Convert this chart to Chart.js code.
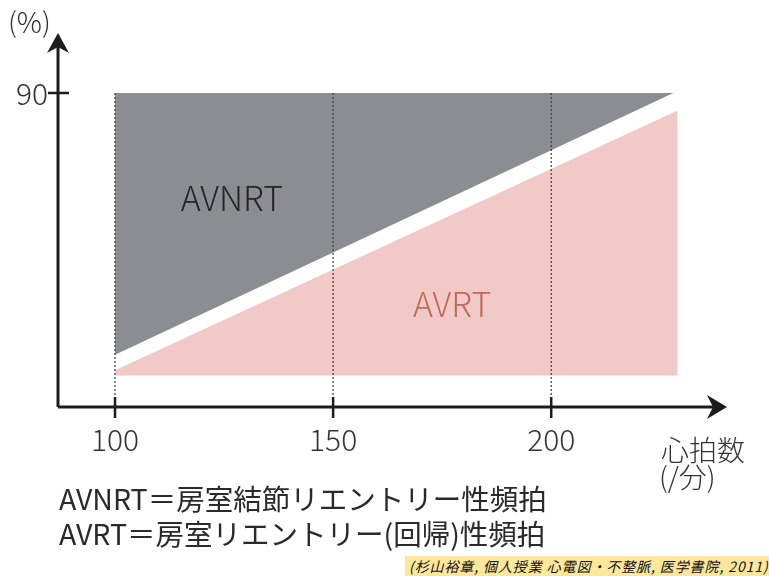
<!DOCTYPE html>
<html>
<head>
<meta charset="utf-8">
<script src="https://cdn.jsdelivr.net/npm/chart.js@4.4.1/dist/chart.umd.min.js"></script>
<style>
  body { margin: 0; background: #fff; }
  #wrap { position: relative; width: 769px; height: 576px; overflow: hidden; }
  #c { position: absolute; left: 0; top: 0; }
  .note { position: absolute; left: 59px; font: 28.5px 'Noto Sans CJK JP', sans-serif; color: #2a2a2a; white-space: nowrap; }
  #cite { position: absolute; left: 405px; top: 556px; width: 364px; height: 20px; background: #fce79c;
          font: italic 14px 'Noto Sans CJK JP', sans-serif; letter-spacing: 0.9px; color: #111; line-height: 20px; white-space: nowrap; padding-left: 4px; }
</style>
</head>
<body>
<div id="wrap">
  <canvas id="c" width="769" height="576"></canvas>
  <div class="note" style="top:477px;">AVNRT＝房室結節リエントリー性頻拍</div>
  <div class="note" style="top:512px;">AVRT＝房室リエントリー(回帰)性頻拍</div>
  <div id="cite">(杉山裕章, 個人授業 心電図・不整脈, 医学書院, 2011)</div>
</div>
<script>
// heart rate (/min) vs %
const xTicks = [100, 150, 200];
const yTicks = [90];

// AVNRT (gray) - lower edge, filled up to 90%
const avnrtX = [100, 228];
const avnrtY = [15, 90];
const avnrtTop = 90;

// AVRT (pink) - upper edge, filled down to the base
const avrtX = [100, 229];
const avrtY = [10.5, 85];
const avrtBase = 9;

const regionNames = ['AVNRT', 'AVRT'];

function pts(xs, ys) {
	return xs.map(function (x, i) { return {x: x, y: ys[i]}; });
}

let datasets = [];
// dotted guide lines (first = drawn on top)
for (let t of xTicks) {
	datasets.push({
		data: [{x: t, y: 0}, {x: t, y: yTicks[0]}],
		borderColor: '#3a3a3a',
		borderWidth: 1.2,
		borderDash: [2, 2],
		pointRadius: 0,
		fill: false
	});
}
datasets.push({
	data: pts(avnrtX, avnrtY),
	borderWidth: 0,
	pointRadius: 0,
	backgroundColor: '#8c8c93',
	fill: {value: avnrtTop}
});
datasets.push({
	data: pts(avrtX, avrtY),
	borderWidth: 0,
	pointRadius: 0,
	backgroundColor: '#f1cac7',
	fill: {value: avrtBase}
});

function arrowHead(ctx, x, y, dir) {
	// dir: 'right' or 'up'
	ctx.beginPath();
	if (dir == 'right') {
		ctx.moveTo(x, y);
		ctx.lineTo(x - 20, y - 12);
		ctx.lineTo(x - 14, y);
		ctx.lineTo(x - 20, y + 12);
	} else {
		ctx.moveTo(x, y);
		ctx.lineTo(x - 11, y + 20);
		ctx.lineTo(x, y + 14);
		ctx.lineTo(x + 11, y + 20);
	}
	ctx.closePath();
	ctx.fill();
}

const axesPlugin = {
	id: 'axesPlugin',
	afterDatasetsDraw: function (chart) {
		let ctx = chart.ctx;
		let xs = chart.scales.x, ys = chart.scales.y;
		let x0 = xs.getPixelForValue(xs.min), x1 = xs.getPixelForValue(xs.max);
		let y0 = ys.getPixelForValue(0), y1 = ys.getPixelForValue(ys.max);
		ctx.save();
		ctx.strokeStyle = '#1c1c1c';
		ctx.fillStyle = '#1c1c1c';
		ctx.lineWidth = 3;
		ctx.beginPath();
		ctx.moveTo(x0, y0); ctx.lineTo(x1 - 6, y0);
		ctx.moveTo(x0, y0); ctx.lineTo(x0, y1 + 6);
		ctx.stroke();
		arrowHead(ctx, x1, y0, 'right');
		arrowHead(ctx, x0, y1, 'up');

		// tick marks
		ctx.lineWidth = 2.5;
		ctx.beginPath();
		for (let t of xTicks) {
			let px = xs.getPixelForValue(t);
			ctx.moveTo(px, y0 - 10); ctx.lineTo(px, y0 + 11);
		}
		for (let t of yTicks) {
			let py = ys.getPixelForValue(t);
			ctx.moveTo(x0 - 10, py); ctx.lineTo(x0 + 11, py);
		}
		ctx.stroke();

		// tick labels
		ctx.fillStyle = '#333';
		ctx.font = "300 30px 'Noto Sans CJK JP', sans-serif";
		ctx.textAlign = 'center';
		ctx.textBaseline = 'middle';
		for (let t of xTicks) {
			ctx.fillText(String(t), xs.getPixelForValue(t), y0 + 33);
		}
		ctx.textAlign = 'right';
		for (let t of yTicks) {
			ctx.fillText(String(t), x0 - 10, ys.getPixelForValue(t) + 1);
		}
		// axis titles
		ctx.font = "300 28px 'Noto Sans CJK JP', sans-serif";
		ctx.textAlign = 'left';
		ctx.fillText('(%)', 8, 22);
		ctx.fillText('心拍数', 661, 450);
		ctx.fillText('(/分)', 659, 477);

		// region labels
		ctx.textAlign = 'center';
		ctx.font = "300 34px 'Noto Sans CJK JP', sans-serif";
		ctx.fillStyle = '#262626';
		ctx.fillText(regionNames[0], xs.getPixelForValue(126.8), ys.getPixelForValue(60));
		ctx.fillStyle = '#c2695a';
		ctx.fillText(regionNames[1], xs.getPixelForValue(177.3), ys.getPixelForValue(29.5));
		ctx.restore();
	}
};

new Chart(document.getElementById('c'), {
	type: 'line',
	data: {datasets: datasets},
	options: {
		responsive: false,
		animation: false,
		layout: {padding: {left: 58, right: 42, top: 33, bottom: 169}},
		plugins: {legend: {display: false}, tooltip: {enabled: false}},
		elements: {line: {tension: 0}},
		scales: {
			x: {type: 'linear', min: 86.93, max: 240.3, display: false},
			y: {type: 'linear', min: 0, max: 107.2, display: false}
		}
	},
	plugins: [axesPlugin]
});
</script>
</body>
</html>
